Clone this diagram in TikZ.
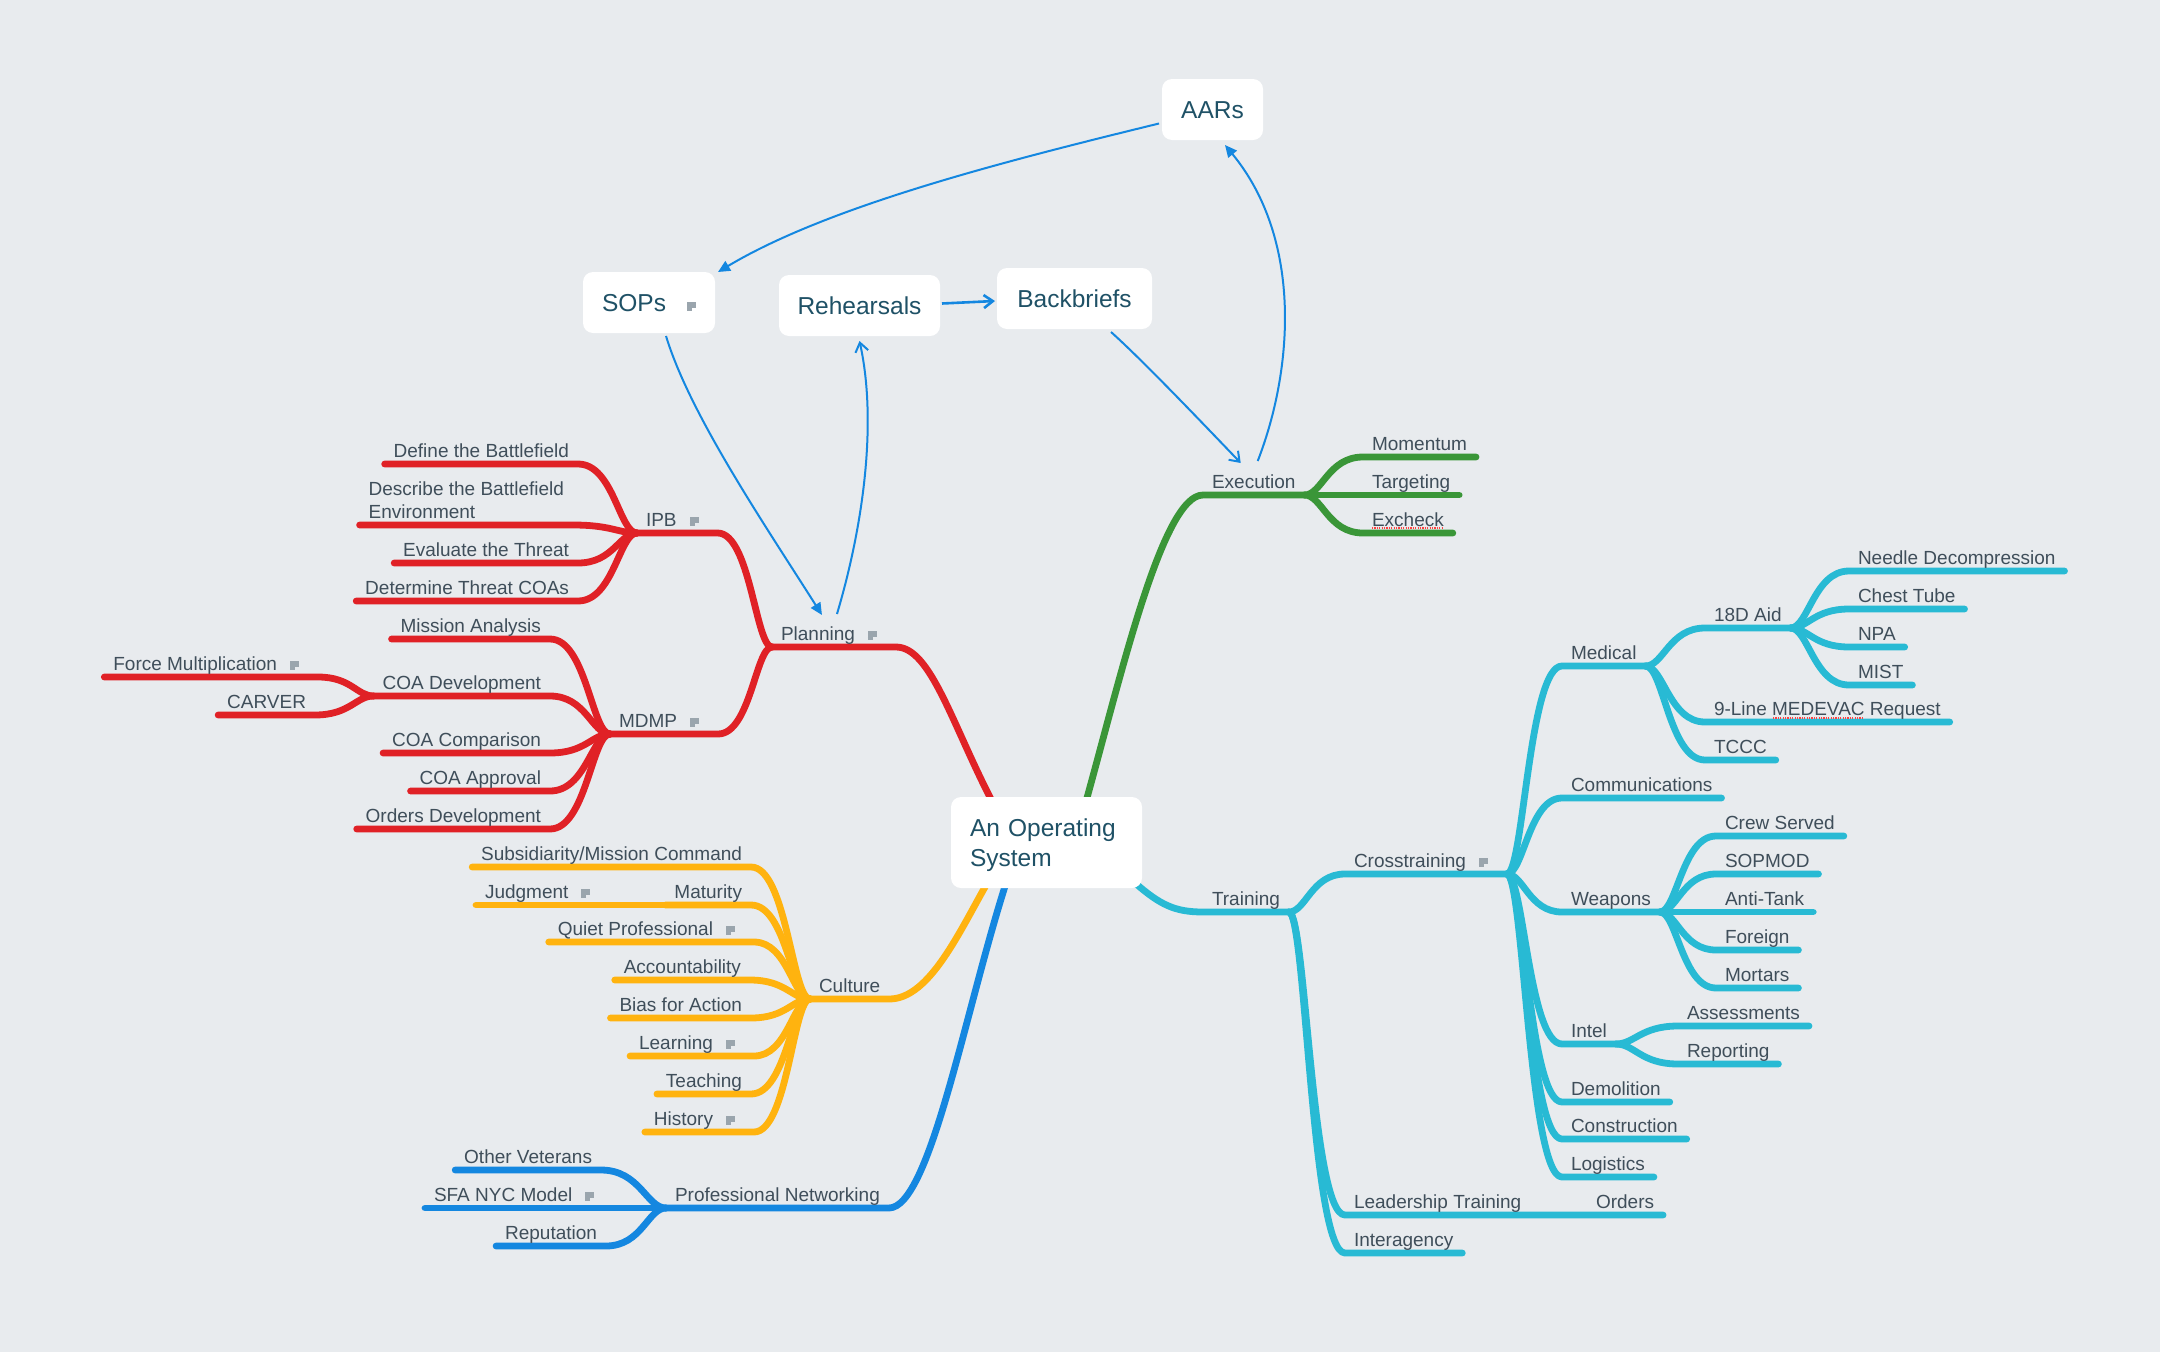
\documentclass[tikz,border=0pt]{standalone}
\usepackage{fontspec}
\setmainfont{Liberation Sans}
\usepackage{xcolor}
\usepackage{tikz}
\usetikzlibrary{arrows.meta,calc,backgrounds}

\definecolor{paper}{HTML}{E8EBEE}
\definecolor{topicgray}{HTML}{3F4E5A}
\definecolor{boxtext}{HTML}{1F5166}
\definecolor{notegray}{HTML}{9AA5AD}
\definecolor{planred}{HTML}{E02126}
\definecolor{cultureamber}{HTML}{FFB30F}
\definecolor{linkblue}{HTML}{1487E0}
\definecolor{execgreen}{HTML}{3A9638}
\definecolor{trainteal}{HTML}{28BAD4}

\newcommand{\notemark}{\textcolor{notegray}{\vbox{\hrule width 9pt height 6pt\hrule width 5pt height 3pt}}}
\newcommand{\noteicon}{\hspace{13pt}\notemark\kern10pt}

\tikzset{
    topic/.style={font=\fontsize{19}{23}\selectfont, text=topicgray, inner xsep=9pt, inner ysep=7pt,
        outer sep=0pt, text height=14pt, text depth=0pt},
    lefttopic/.style={topic, anchor=south east, xshift=-1pt},
    righttopic/.style={topic, anchor=south west, xshift=1pt},
    bigbox/.style={font=\fontsize{24.5}{30}\selectfont, text=boxtext, fill=white, rounded corners=10pt,
        outer sep=0pt, minimum height=61pt, text height=17pt, text depth=0pt},
    branch/.style={to path={.. controls ($(\tikztostart)!0.3!(\tikztotarget |- \tikztostart)$)
        and ($(\tikztotarget)!0.6!(\tikztostart |- \tikztotarget)$) .. (\tikztotarget)}},
    limb/.style={line width=6.8pt, line cap=round, line join=round},
    redlimb/.style={limb, draw=planred},
    amberlimb/.style={limb, draw=cultureamber},
    bluelimb/.style={limb, draw=linkblue},
    greenlimb/.style={limb, draw=execgreen},
    teallimb/.style={limb, draw=trainteal},
    linkfill/.style={draw=linkblue, line width=2pt, -{Triangle[length=12pt,width=11pt]}},
    linkopen/.style={draw=linkblue, line width=2pt, -{Straight Barb[length=9pt,width=13pt]}},
    spellmark/.style={draw=red!75!white, line width=1.6pt, dash pattern=on 1.2pt off 1.2pt}
}

\begin{document}
\begin{tikzpicture}[x=1pt, y=-1pt]
    \useasboundingbox (0,0) rectangle (2160,1352);

    % Boxes
    \node[bigbox, minimum width=191pt, minimum height=91pt, text width=153pt, align=left, text depth=30pt] (root) at (1046.5,842.5) {An Operating\\System};
    \node[bigbox, minimum width=101pt] (aars) at (1212.5,109.5) {AARs};
    \node[bigbox, minimum width=132pt] (sops) at (649,302.5) {SOPs\hspace{21pt}\notemark};
    \node[bigbox, minimum width=161pt] (rehearsals) at (859.5,305.5) {Rehearsals};
    \node[bigbox, minimum width=155pt] (backbriefs) at (1074.5,298.5) {Backbriefs};

    % Planning
    \node[righttopic] (planning) at (771,647) {Planning\noteicon};
    \node[righttopic] (ipb) at (636,533) {IPB\noteicon};
    \node[lefttopic] (define) at (579,464) {Define the Battlefield};
    \node[lefttopic, align=left] (describe) at (574,525) {Describe the Battlefield\\Environment};
    \node[lefttopic] (evaluate) at (579,563) {Evaluate the Threat};
    \node[lefttopic] (determine) at (579,601) {Determine Threat COAs};
    \node[righttopic] (mdmp) at (609,734) {MDMP\noteicon};
    \node[lefttopic] (mission) at (551,639) {Mission Analysis};
    \node[lefttopic] (coadev) at (551,696) {COA Development};
    \node[lefttopic] (force) at (319,677) {Force Multiplication\noteicon};
    \node[lefttopic] (carver) at (316,715) {CARVER};
    \node[lefttopic] (coacomp) at (551,753) {COA Comparison};
    \node[lefttopic] (coaapp) at (551,791) {COA Approval};
    \node[lefttopic] (orderdev) at (551,829) {Orders Development};

    % Culture
    \node[righttopic] (culture) at (809,999) {Culture};
    \node[lefttopic] (subsidiarity) at (752,867) {Subsidiarity/Mission Command};
    \node[lefttopic] (maturity) at (752,905) {Maturity};
    \node[righttopic] (judgment) at (475,905) {Judgment\noteicon};
    \node[lefttopic] (quiet) at (755,942) {Quiet Professional\noteicon};
    \node[lefttopic] (accountability) at (751,980) {Accountability};
    \node[lefttopic] (bias) at (752,1018) {Bias for Action};
    \node[lefttopic] (learning) at (755,1056) {Learning\noteicon};
    \node[lefttopic] (teaching) at (752,1094) {Teaching};
    \node[lefttopic] (history) at (755,1132) {History\noteicon};

    % Professional Networking
    \node[righttopic] (networking) at (665,1208) {Professional Networking};
    \node[lefttopic] (veterans) at (602,1170) {Other Veterans};
    \node[righttopic] (sfa) at (424,1208) {SFA NYC Model\noteicon};
    \node[lefttopic] (reputation) at (607,1246) {Reputation};

    % Execution
    \node[righttopic] (execution) at (1202,495) {Execution};
    \node[righttopic] (momentum) at (1362,457) {Momentum};
    \node[righttopic] (targeting) at (1362,495) {Targeting};
    \node[righttopic] (excheck) at (1362,533) {Excheck};

    % Training
    \node[righttopic] (training) at (1202,912) {Training};
    \node[righttopic] (crosstraining) at (1344,874) {Crosstraining\noteicon};
    \node[righttopic] (medical) at (1561,666) {Medical};
    \node[righttopic] (aid) at (1704,628) {18D Aid};
    \node[righttopic] (needle) at (1848,571) {Needle Decompression};
    \node[righttopic] (chest) at (1848,609) {Chest Tube};
    \node[righttopic] (npa) at (1848,647) {NPA};
    \node[righttopic] (mist) at (1848,685) {MIST};
    \node[righttopic] (nineline) at (1704,722) {9-Line MEDEVAC Request};
    \node[righttopic] (tccc) at (1704,760) {TCCC};
    \node[righttopic] (comms) at (1561,798) {Communications};
    \node[righttopic] (weapons) at (1561,912) {Weapons};
    \node[righttopic] (crew) at (1715,836) {Crew Served};
    \node[righttopic] (sopmod) at (1715,874) {SOPMOD};
    \node[righttopic] (antitank) at (1715,912) {Anti-Tank};
    \node[righttopic] (foreign) at (1715,950) {Foreign};
    \node[righttopic] (mortars) at (1715,988) {Mortars};
    \node[righttopic] (intel) at (1561,1044) {Intel};
    \node[righttopic] (assessments) at (1677,1026) {Assessments};
    \node[righttopic] (reporting) at (1677,1064) {Reporting};
    \node[righttopic] (demolition) at (1561,1102) {Demolition};
    \node[righttopic] (construction) at (1561,1139) {Construction};
    \node[righttopic] (logistics) at (1561,1177) {Logistics};
    \node[righttopic] (leadership) at (1344,1215) {Leadership Training};
    \node[righttopic] (orders) at (1586,1215) {Orders};
    \node[righttopic] (interagency) at (1344,1253) {Interagency};

    % Spelling marks
    \draw[spellmark] ([xshift=9pt,yshift=5pt]excheck.south west) -- ([xshift=-9pt,yshift=5pt]excheck.south east);
    \draw[spellmark] ([xshift=68pt,yshift=4pt]nineline.south west) -- ([xshift=158pt,yshift=4pt]nineline.south west);

    \begin{scope}[on background layer]
        \fill[paper] (0,0) rectangle (2160,1352);

        % Planning limbs
        \draw[redlimb] ([xshift=43pt,yshift=-8pt]root.north west) .. controls +(-42,-80) and +(35,0) .. (planning.south east) -- (planning.south west);
        \draw[redlimb] (planning.south west) to[branch] (ipb.south east) -- (ipb.south west);
        \draw[redlimb] (ipb.south west) to[branch] (define.south east) -- (define.south west);
        \draw[redlimb] (ipb.south west) to[branch] (describe.south east) -- (describe.south west);
        \draw[redlimb] (ipb.south west) to[branch] (evaluate.south east) -- (evaluate.south west);
        \draw[redlimb] (ipb.south west) to[branch] (determine.south east) -- (determine.south west);
        \draw[redlimb] (planning.south west) to[branch] (mdmp.south east) -- (mdmp.south west);
        \draw[redlimb] (mdmp.south west) to[branch] (mission.south east) -- (mission.south west);
        \draw[redlimb] (mdmp.south west) to[branch] (coadev.south east) -- (coadev.south west);
        \draw[redlimb] (coadev.south west) to[branch] (force.south east) -- (force.south west);
        \draw[redlimb] (coadev.south west) to[branch] (carver.south east) -- (carver.south west);
        \draw[redlimb] (mdmp.south west) to[branch] (coacomp.south east) -- (coacomp.south west);
        \draw[redlimb] (mdmp.south west) to[branch] (coaapp.south east) -- (coaapp.south west);
        \draw[redlimb] (mdmp.south west) to[branch] (orderdev.south east) -- (orderdev.south west);

        % Culture limbs
        \draw[amberlimb] ([xshift=38pt,yshift=8pt]root.south west) .. controls (960,930) and (930,999) .. (culture.south east) -- (culture.south west);
        \draw[amberlimb] (culture.south west) to[branch] (subsidiarity.south east) -- (subsidiarity.south west);
        \draw[amberlimb] (culture.south west) to[branch] (maturity.south east) -- (maturity.south west);
        \draw[amberlimb] (maturity.south west) -- (judgment.south east) -- (judgment.south west);
        \draw[amberlimb] (culture.south west) to[branch] (quiet.south east) -- (quiet.south west);
        \draw[amberlimb] (culture.south west) to[branch] (accountability.south east) -- (accountability.south west);
        \draw[amberlimb] (culture.south west) to[branch] (bias.south east) -- (bias.south west);
        \draw[amberlimb] (culture.south west) to[branch] (learning.south east) -- (learning.south west);
        \draw[amberlimb] (culture.south west) to[branch] (teaching.south east) -- (teaching.south west);
        \draw[amberlimb] (culture.south west) to[branch] (history.south east) -- (history.south west);

        % Networking limbs
        \draw[bluelimb] ([xshift=56pt,yshift=8pt]root.south west) .. controls (965,1010) and (930,1208) .. (networking.south east) -- (networking.south west);
        \draw[bluelimb] (networking.south west) to[branch] (veterans.south east) -- (veterans.south west);
        \draw[bluelimb] (networking.south west) -- (sfa.south east) -- (sfa.south west);
        \draw[bluelimb] (networking.south west) to[branch] (reputation.south east) -- (reputation.south west);

        % Execution limbs
        \draw[greenlimb] ([xshift=134pt,yshift=-8pt]root.north west) .. controls (1120,680) and (1162,495) .. (execution.south west) -- (execution.south east);
        \draw[greenlimb] (execution.south east) to[branch] (momentum.south west) -- (momentum.south east);
        \draw[greenlimb] (execution.south east) to[branch] (targeting.south west) -- (targeting.south east);
        \draw[greenlimb] (execution.south east) to[branch] (excheck.south west) -- (excheck.south east);

        % Training limbs
        \draw[teallimb] ([xshift=-8pt,yshift=6pt]root.south east) .. controls (1160,905) and (1175,912) .. (training.south west) -- (training.south east);
        \draw[teallimb] (training.south east) to[branch] (crosstraining.south west) -- (crosstraining.south east);
        \draw[teallimb] (training.south east) to[branch] (leadership.south west) -- (leadership.south east) -- (orders.south west) -- (orders.south east);
        \draw[teallimb] (training.south east) to[branch] (interagency.south west) -- (interagency.south east);
        \draw[teallimb] (crosstraining.south east) to[branch] (medical.south west) -- (medical.south east);
        \draw[teallimb] (medical.south east) to[branch] (aid.south west) -- (aid.south east);
        \draw[teallimb] (aid.south east) to[branch] (needle.south west) -- (needle.south east);
        \draw[teallimb] (aid.south east) to[branch] (chest.south west) -- (chest.south east);
        \draw[teallimb] (aid.south east) to[branch] (npa.south west) -- (npa.south east);
        \draw[teallimb] (aid.south east) to[branch] (mist.south west) -- (mist.south east);
        \draw[teallimb] (medical.south east) to[branch] (nineline.south west) -- (nineline.south east);
        \draw[teallimb] (medical.south east) to[branch] (tccc.south west) -- (tccc.south east);
        \draw[teallimb] (crosstraining.south east) to[branch] (comms.south west) -- (comms.south east);
        \draw[teallimb] (crosstraining.south east) to[branch] (weapons.south west) -- (weapons.south east);
        \draw[teallimb] (weapons.south east) to[branch] (crew.south west) -- (crew.south east);
        \draw[teallimb] (weapons.south east) to[branch] (sopmod.south west) -- (sopmod.south east);
        \draw[teallimb] (weapons.south east) to[branch] (antitank.south west) -- (antitank.south east);
        \draw[teallimb] (weapons.south east) to[branch] (foreign.south west) -- (foreign.south east);
        \draw[teallimb] (weapons.south east) to[branch] (mortars.south west) -- (mortars.south east);
        \draw[teallimb] (crosstraining.south east) to[branch] (intel.south west) -- (intel.south east);
        \draw[teallimb] (intel.south east) to[branch] (assessments.south west) -- (assessments.south east);
        \draw[teallimb] (intel.south east) to[branch] (reporting.south west) -- (reporting.south east);
        \draw[teallimb] (crosstraining.south east) to[branch] (demolition.south west) -- (demolition.south east);
        \draw[teallimb] (crosstraining.south east) to[branch] (construction.south west) -- (construction.south east);
        \draw[teallimb] (crosstraining.south east) to[branch] (logistics.south west) -- (logistics.south east);
    \end{scope}

    % Links between boxes
    \draw[linkfill] ([xshift=-3pt,yshift=-14pt]aars.west) .. controls (1010,160) and (830,205) .. ([xshift=3pt]sops.north east);
    \draw[linkfill] ([xshift=17pt,yshift=-3pt]sops.south) .. controls (690,415) and (765,525) .. ([xshift=-12pt,yshift=4pt]planning.north);
    \draw[linkopen] ([xshift=3pt,yshift=5pt]planning.north) .. controls (862,530) and (878,425) .. ([yshift=-5pt]rehearsals.south);
    \draw[linkopen, line width=2.6pt] ([xshift=2pt,yshift=2pt]rehearsals.east) -- ([xshift=-2pt,yshift=-2.5pt]backbriefs.west);
    \draw[linkopen] ([xshift=36.5pt,yshift=-3pt]backbriefs.south) .. controls (1140,358) and (1190,410) .. ([xshift=-13pt,yshift=4pt]execution.north);
    \draw[linkfill] ([xshift=4pt,yshift=6pt]execution.north) .. controls (1293,370) and (1303,240) .. ([xshift=12.5pt,yshift=-5pt]aars.south);
\end{tikzpicture}
\end{document}
